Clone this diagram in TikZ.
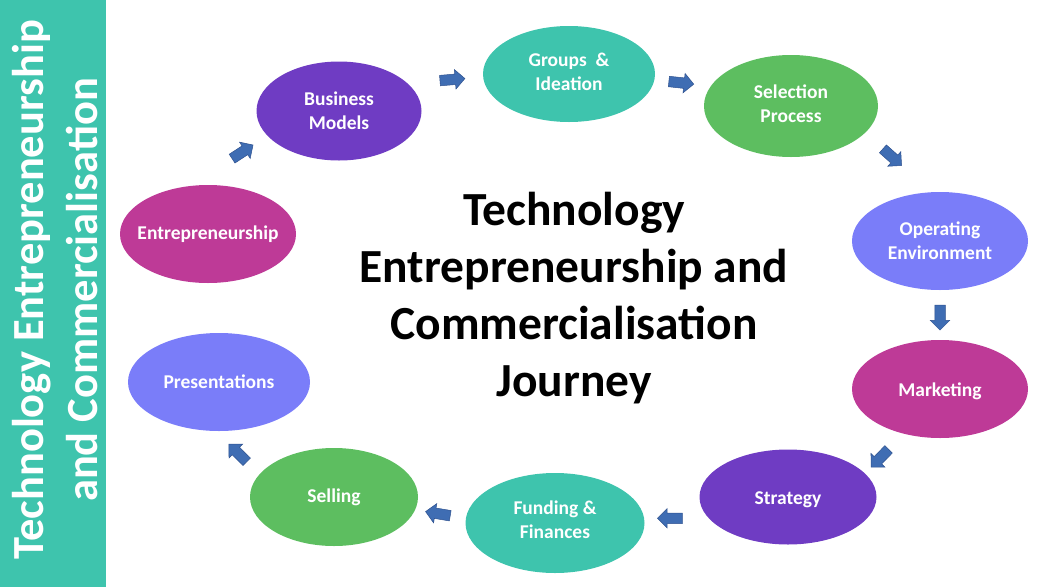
\documentclass[tikz,border=0pt]{standalone}
\usepackage{fontspec}
\setmainfont{Carlito}
\usetikzlibrary{shapes.geometric,shapes.arrows}

\definecolor{teal}{HTML}{3EC4AD}
\definecolor{violet}{HTML}{6F3CC3}
\definecolor{leaf}{HTML}{5DBE60}
\definecolor{lilac}{HTML}{7A7DF9}
\definecolor{plum}{HTML}{BE3A97}
\definecolor{flowblue}{HTML}{3F6DB3}
\definecolor{flowedge}{HTML}{2F528F}

\tikzset{
  stage/.style={ellipse, fill=#1, minimum width=176pt, minimum height=98pt, inner sep=0pt},
  stagetext/.style={text=white, align=center, font=\bfseries\fontsize{19.5}{24}\selectfont},
  flow/.style={single arrow, fill=flowblue, draw=flowedge, line width=0.5pt,
    minimum height=25pt, inner sep=5pt, single arrow head extend=4.5pt,
    outer sep=0pt, sloped, allow upside down}
}

\begin{document}
\begin{tikzpicture}[x=1pt,y=-1pt]
\useasboundingbox (0,0) rectangle (1061,587);

\fill[teal] (0,0) rectangle (106,587);
\node[rotate=90, text=white, align=center, font=\bfseries\fontsize{44.5}{54}\selectfont] (bartitle) at (55,290) {Technology Entrepreneurship\\and Commercialisation};

\node[align=center, font=\bfseries\fontsize{47.5}{57}\selectfont] (title) at (574,298) {Technology\\Entrepreneurship and\\Commercialisation\\Journey};

\node[stage=plum, label={[stagetext]center:Entrepreneurship}] (entre) at (208,234) {};
\node[stage=violet, minimum width=165pt, minimum height=99pt, label={[stagetext]center:Business\\Models}] (bm) at (339,111) {};
\node[stage=teal, minimum width=172pt, minimum height=96pt, label={[stagetext, yshift=2pt]center:Groups~ \&\\Ideation}] (groups) at (569,74) {};
\node[stage=leaf, minimum width=174pt, minimum height=102pt, label={[stagetext, yshift=2pt]center:Selection\\Process}] (select) at (791,106) {};
\node[stage=lilac, label={[stagetext]center:Operating\\Environment}] (operate) at (940,241) {};
\node[stage=plum, label={[stagetext, yshift=-2pt]center:Marketing}] (market) at (940,389) {};
\node[stage=violet, minimum width=177pt, minimum height=95pt, label={[stagetext, yshift=-3pt]center:Strategy}] (strategy) at (788,497) {};
\node[stage=teal, minimum width=179pt, minimum height=100pt, label={[stagetext, yshift=3pt]center:Funding \&\\Finances}] (funding) at (555,523) {};
\node[stage=leaf, minimum width=168pt, label={[stagetext]center:Selling}] (selling) at (334,497) {};
\node[stage=lilac, minimum width=182pt, label={[stagetext]center:Presentations}] (present) at (219,382) {};

\path (entre.110) -- node[flow, pos=0.65] {} (bm.199);
\path (bm.22) -- node[flow, pos=0.56] {} (groups.182);
\path (groups.356) -- node[flow, pos=0.43] {} (select.166);
\path (select.340) -- node[flow, pos=0.38] {} (operate.100);
\path (operate.south) -- node[flow] {} (market.north);
\path (market.231) -- node[flow, pos=0.57] {} (strategy.17);
\path (strategy.195) -- node[flow, pos=0.56] {} (funding.3);
\path (funding.177) -- node[flow] {} (selling.351);
\path (selling.163) -- node[flow, pos=0.45] {} (present.266);

\end{tikzpicture}
\end{document}
